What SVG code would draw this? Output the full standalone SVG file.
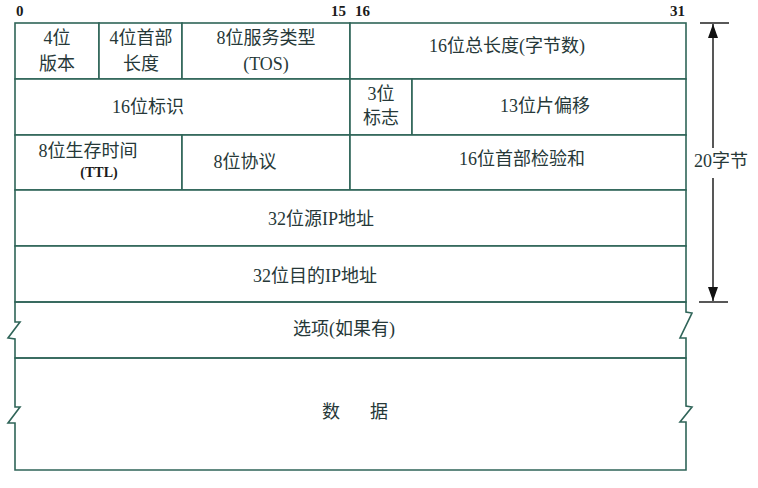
<svg xmlns="http://www.w3.org/2000/svg" width="758" height="488" viewBox="0 0 758 488">
<defs>
<style>
.c{fill:#fff;stroke:#2f6458;stroke-width:1.6}
.b{fill:none;stroke:#2f6458;stroke-width:1.6;stroke-linejoin:miter}
.t{font-family:"Liberation Serif","Noto Sans CJK SC",serif;font-size:18px;fill:#263838;text-anchor:middle}
.n{font-family:"Liberation Serif",serif;font-size:15px;font-weight:bold;fill:#1a1a1a}
.s{font-family:"Liberation Serif",serif;font-size:14px;font-weight:bold;fill:#1a1a1a;text-anchor:middle}
.a{stroke:#111;stroke-width:1.4;fill:none}
</style>
<marker id="ah" markerWidth="14" markerHeight="10" refX="14" refY="5" orient="auto" markerUnits="userSpaceOnUse" viewBox="0 0 14 10">
<path d="M0,0 L14,5 L0,10 Z" fill="#111"/>
</marker>
</defs>
<rect width="758" height="488" fill="#fff"/>
<g id="bits">
<text class="n" x="16" y="16">0</text>
<text class="n" x="331" y="16">15</text>
<text class="n" x="355" y="16">16</text>
<text class="n" x="670" y="16">31</text>
</g>
<g id="version"><rect class="c" x="15" y="23" width="84" height="56"/><text class="t" x="57" y="44">4位</text><text class="t" x="57" y="70">版本</text></g>
<g id="ihl"><rect class="c" x="99" y="23" width="83" height="56"/><text class="t" x="141" y="44">4位首部</text><text class="t" x="141" y="70">长度</text></g>
<g id="tos"><rect class="c" x="182" y="23" width="168" height="56"/><text class="t" x="266" y="44">8位服务类型</text><text class="t" x="266" y="70">(TOS)</text></g>
<g id="totallen"><rect class="c" x="350" y="23" width="336" height="56"/><text class="t" x="507" y="52">16位总长度(字节数)</text></g>
<g id="ident"><rect class="c" x="15" y="79" width="335" height="56"/><text class="t" x="148" y="113">16位标识</text></g>
<g id="flags"><rect class="c" x="350" y="79" width="62" height="56"/><text class="t" x="381" y="100">3位</text><text class="t" x="381" y="124">标志</text></g>
<g id="fragoff"><rect class="c" x="412" y="79" width="274" height="56"/><text class="t" x="545" y="112">13位片偏移</text></g>
<g id="ttl"><rect class="c" x="15" y="135" width="167" height="55"/><text class="t" x="88" y="157">8位生存时间</text><text class="s" x="99" y="177">(TTL)</text></g>
<g id="proto"><rect class="c" x="182" y="135" width="168" height="55"/><text class="t" x="245" y="168">8位协议</text></g>
<g id="checksum"><rect class="c" x="350" y="135" width="336" height="55"/><text class="t" x="522" y="165">16位首部检验和</text></g>
<g id="srcip"><rect class="c" x="15" y="190" width="671" height="56"/><text class="t" x="321" y="225">32位源IP地址</text></g>
<g id="dstip"><rect class="c" x="15" y="246" width="671" height="56"/><text class="t" x="315" y="282">32位目的IP地址</text></g>
<g id="options">
<path class="b" d="M15,302 H686 V312 L692,313 L680,338 L686,338 V358 H15 V339 L8,338 L20,322 L15,322 Z"/>
<text class="t" x="344" y="335">选项(如果有)</text>
</g>
<g id="data">
<path class="b" d="M15,358 H686 V406 L692,407 L680,422 L686,422 V470 H15 V423 L8,423 L20,407 L15,407 Z"/>
<text class="t" x="331" y="418">数</text><text class="t" x="379" y="418">据</text>
</g>
<g id="connectors">
<line class="a" x1="700" y1="23" x2="729" y2="23"/>
<line class="a" x1="699" y1="302" x2="728" y2="302"/>
<line class="a" x1="713" y1="148" x2="713" y2="24" marker-end="url(#ah)"/>
<line class="a" x1="713" y1="178" x2="713" y2="301" marker-end="url(#ah)"/>
</g>
<g id="size"><text class="t" x="721" y="167">20字节</text></g>
</svg>
